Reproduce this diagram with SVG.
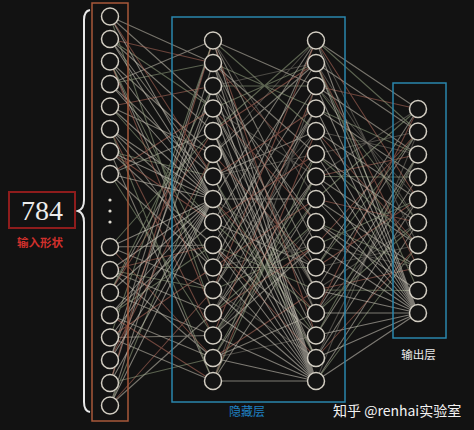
<svg xmlns="http://www.w3.org/2000/svg" width="474" height="430" viewBox="0 0 474 430">
<style>
.bg{fill:#121212}
.n{fill:#141414;stroke:#d2cdc2;stroke-width:1.5}
.e{fill:none;stroke-width:1.1}
.g{stroke:#c8c2b4;stroke-opacity:0.55}
.r{stroke:#b8705e;stroke-opacity:0.55}
.v{stroke:#98a683;stroke-opacity:0.55}
.d{stroke:#a39d90;stroke-opacity:0.4}
.f{stroke:#d6d0c2;stroke-opacity:0.55}
.cjk{font-family:"Noto Sans CJK SC","Noto Sans",sans-serif}
</style>
<rect class="bg" x="0" y="0" width="474" height="430"/>
<g id="connectors">
<path class="e g" d="M110 16.5L213 108.5M110 39L213 131M110 61.5L213 154M110 84L213 176.5M110 129L213 222M110 151.5L213 245M110 174L213 267.5M110 247L213 290M110 270L213 313M110 292.5L213 335.5M110 315L213 358M110 337.5L213 381M110 360L213 40.5M110 383L213 63M110 405.5L213 86"/>
<path class="e g" d="M110 16.5L213 63M110 39L213 176.5M110 61.5L213 290M110 84L213 40.5M110 106.5L213 154M110 129L213 267.5M110 151.5L213 381M110 174L213 131M110 247L213 245M110 270L213 358M110 292.5L213 108.5M110 315L213 222M110 337.5L213 335.5M110 360L213 86M110 405.5L213 313"/>
<path class="e r" d="M110 16.5L213 176.5M110 39L213 63M110 61.5L213 313M110 106.5L213 86M110 129L213 335.5M110 151.5L213 222M110 174L213 108.5M110 247L213 358M110 270L213 245M110 292.5L213 131M110 315L213 381M110 337.5L213 267.5M110 360L213 154M110 383L213 40.5M110 405.5L213 290"/>
<path class="e v" d="M110 16.5L213 313M110 39L213 108.5M110 61.5L213 267.5M110 84L213 63M110 106.5L213 222M110 129L213 381M110 151.5L213 176.5M110 174L213 335.5M110 247L213 131M110 270L213 290M110 292.5L213 86M110 315L213 245M110 337.5L213 40.5M110 383L213 358M110 405.5L213 154"/>
<path class="e f" d="M110 16.5L213 199M110 39L213 199M110 61.5L213 199M110 84L213 199M110 106.5L213 199M110 129L213 199M110 151.5L213 199M110 174L213 199M110 247L213 199M110 270L213 199M110 292.5L213 199M110 315L213 199M110 337.5L213 199M110 360L213 199M110 383L213 199M110 405.5L213 199"/>
<path class="e g" d="M213 40.5L316 245M213 63L316 267.5M213 86L316 290M213 108.5L316 313M213 131L316 335.5M213 154L316 358M213 199L316 40.5M213 222L316 63M213 245L316 86M213 267.5L316 108.5M213 290L316 131M213 313L316 154M213 335.5L316 176.5M213 358L316 199M213 381L316 222"/>
<path class="e g" d="M213 40.5L316 86M213 63L316 154M213 86L316 222M213 108.5L316 290M213 131L316 358M213 154L316 63M213 176.5L316 131M213 199L316 199M213 222L316 267.5M213 245L316 335.5M213 267.5L316 40.5M213 290L316 108.5M213 313L316 176.5M213 335.5L316 245M213 358L316 313"/>
<path class="e r" d="M213 40.5L316 335.5M213 63L316 176.5M213 108.5L316 222M213 131L316 63M213 154L316 267.5M213 176.5L316 108.5M213 199L316 313M213 222L316 154M213 245L316 358M213 267.5L316 199M213 290L316 40.5M213 313L316 245M213 335.5L316 86M213 358L316 290M213 381L316 131"/>
<path class="e v" d="M213 40.5L316 131M213 63L316 108.5M213 86L316 86M213 108.5L316 63M213 131L316 40.5M213 176.5L316 358M213 199L316 335.5M213 222L316 313M213 245L316 290M213 267.5L316 267.5M213 290L316 245M213 313L316 222M213 335.5L316 199M213 358L316 176.5M213 381L316 154"/>
<path class="e d" d="M213 40.5L316 199M213 63L316 313M213 86L316 63M213 108.5L316 176.5M213 131L316 290M213 154L316 40.5M213 176.5L316 154M213 199L316 267.5M213 245L316 131M213 267.5L316 245M213 290L316 358M213 313L316 108.5M213 335.5L316 222M213 358L316 335.5M213 381L316 86"/>
<path class="e f" d="M213 40.5L316 381M213 63L316 381M213 86L316 381M213 108.5L316 381M213 131L316 381M213 154L316 381M213 176.5L316 381M213 199L316 381M213 222L316 381M213 245L316 381M213 267.5L316 381M213 290L316 381M213 313L316 381M213 335.5L316 381M213 358L316 381M213 381L316 381"/>
<path class="e g" d="M316 40.5L418 109M316 63L418 131.5M316 86L418 154.5M316 108.5L418 177M316 131L418 199.5M316 154L418 222.5M316 176.5L418 245M316 199L418 267.5M316 222L418 290.5M316 267.5L418 109M316 290L418 131.5M316 313L418 154.5M316 335.5L418 177M316 358L418 199.5M316 381L418 222.5"/>
<path class="e r" d="M316 40.5L418 199.5M316 63L418 267.5M316 86L418 109M316 131L418 245M316 176.5L418 154.5M316 199L418 222.5M316 245L418 131.5M316 267.5L418 199.5M316 290L418 267.5M316 313L418 109M316 358L418 245"/>
<path class="e v" d="M316 40.5L418 131.5M316 63L418 290.5M316 86L418 222.5M316 108.5L418 154.5M316 154L418 245M316 176.5L418 177M316 199L418 109M316 222L418 267.5M316 245L418 199.5M316 267.5L418 131.5M316 290L418 290.5M316 313L418 222.5M316 335.5L418 154.5M316 381L418 245"/>
<path class="e d" d="M316 40.5L418 245M316 63L418 222.5M316 86L418 199.5M316 131L418 154.5M316 154L418 131.5M316 176.5L418 109M316 245L418 267.5M316 267.5L418 245M316 290L418 222.5M316 313L418 199.5M316 358L418 154.5M316 381L418 131.5"/>
<path class="e f" d="M316 40.5L418 313M316 63L418 313M316 86L418 313M316 108.5L418 313M316 131L418 313M316 154L418 313M316 176.5L418 313M316 199L418 313M316 222L418 313M316 245L418 313M316 267.5L418 313M316 290L418 313M316 313L418 313M316 335.5L418 313M316 358L418 313M316 381L418 313"/>
</g>
<g id="input-layer">
<rect x="92" y="3" width="36" height="418" fill="none" stroke="#a8583a" stroke-width="1.5"/>
<circle class="n" cx="110" cy="16.5" r="8.5"/>
<circle class="n" cx="110" cy="39" r="8.5"/>
<circle class="n" cx="110" cy="61.5" r="8.5"/>
<circle class="n" cx="110" cy="84" r="8.5"/>
<circle class="n" cx="110" cy="106.5" r="8.5"/>
<circle class="n" cx="110" cy="129" r="8.5"/>
<circle class="n" cx="110" cy="151.5" r="8.5"/>
<circle class="n" cx="110" cy="174" r="8.5"/>
<circle cx="110" cy="200" r="1.6" fill="#e0dcd2"/>
<circle cx="110" cy="211" r="1.6" fill="#e0dcd2"/>
<circle cx="110" cy="222" r="1.6" fill="#e0dcd2"/>
<circle class="n" cx="110" cy="247" r="8.5"/>
<circle class="n" cx="110" cy="270" r="8.5"/>
<circle class="n" cx="110" cy="292.5" r="8.5"/>
<circle class="n" cx="110" cy="315" r="8.5"/>
<circle class="n" cx="110" cy="337.5" r="8.5"/>
<circle class="n" cx="110" cy="360" r="8.5"/>
<circle class="n" cx="110" cy="383" r="8.5"/>
<circle class="n" cx="110" cy="405.5" r="8.5"/>
</g>
<g id="input-brace">
<path d="M90 10Q84 11 84 20L84 200Q84 209 78 211Q84 213 84 222L84 402Q84 411 90 412" fill="none" stroke="#e8e8e8" stroke-width="2"/>
</g>
<g id="input-shape">
<rect x="9" y="192" width="66" height="36" fill="none" stroke="#8e1c1c" stroke-width="2"/>
<text x="42" y="220" text-anchor="middle" font-family="'Liberation Serif',serif" font-size="28" fill="#ececec">784</text>
<text x="40" y="246.5" text-anchor="middle" class="cjk" font-size="11.5" font-weight="bold" fill="#d0302c">输入形状</text>
</g>
<g id="hidden-layer">
<rect x="172" y="17" width="173" height="385" fill="none" stroke="#2a86ad" stroke-width="1.5"/>
<circle class="n" cx="213" cy="40.5" r="8.5"/>
<circle class="n" cx="213" cy="63" r="8.5"/>
<circle class="n" cx="213" cy="86" r="8.5"/>
<circle class="n" cx="213" cy="108.5" r="8.5"/>
<circle class="n" cx="213" cy="131" r="8.5"/>
<circle class="n" cx="213" cy="154" r="8.5"/>
<circle class="n" cx="213" cy="176.5" r="8.5"/>
<circle class="n" cx="213" cy="199" r="8.5"/>
<circle class="n" cx="213" cy="222" r="8.5"/>
<circle class="n" cx="213" cy="245" r="8.5"/>
<circle class="n" cx="213" cy="267.5" r="8.5"/>
<circle class="n" cx="213" cy="290" r="8.5"/>
<circle class="n" cx="213" cy="313" r="8.5"/>
<circle class="n" cx="213" cy="335.5" r="8.5"/>
<circle class="n" cx="213" cy="358" r="8.5"/>
<circle class="n" cx="213" cy="381" r="8.5"/>
<circle class="n" cx="316" cy="40.5" r="8.5"/>
<circle class="n" cx="316" cy="63" r="8.5"/>
<circle class="n" cx="316" cy="86" r="8.5"/>
<circle class="n" cx="316" cy="108.5" r="8.5"/>
<circle class="n" cx="316" cy="131" r="8.5"/>
<circle class="n" cx="316" cy="154" r="8.5"/>
<circle class="n" cx="316" cy="176.5" r="8.5"/>
<circle class="n" cx="316" cy="199" r="8.5"/>
<circle class="n" cx="316" cy="222" r="8.5"/>
<circle class="n" cx="316" cy="245" r="8.5"/>
<circle class="n" cx="316" cy="267.5" r="8.5"/>
<circle class="n" cx="316" cy="290" r="8.5"/>
<circle class="n" cx="316" cy="313" r="8.5"/>
<circle class="n" cx="316" cy="335.5" r="8.5"/>
<circle class="n" cx="316" cy="358" r="8.5"/>
<circle class="n" cx="316" cy="381" r="8.5"/>
<text x="247" y="416" text-anchor="middle" class="cjk" font-size="12" fill="#1f80c2">隐藏层</text>
</g>
<g id="output-layer">
<rect x="393" y="83" width="53" height="255" fill="none" stroke="#2a86ad" stroke-width="1.5"/>
<circle class="n" cx="418" cy="109" r="8.5"/>
<circle class="n" cx="418" cy="131.5" r="8.5"/>
<circle class="n" cx="418" cy="154.5" r="8.5"/>
<circle class="n" cx="418" cy="177" r="8.5"/>
<circle class="n" cx="418" cy="199.5" r="8.5"/>
<circle class="n" cx="418" cy="222.5" r="8.5"/>
<circle class="n" cx="418" cy="245" r="8.5"/>
<circle class="n" cx="418" cy="267.5" r="8.5"/>
<circle class="n" cx="418" cy="290.5" r="8.5"/>
<circle class="n" cx="418" cy="313" r="8.5"/>
<text x="418.5" y="359" text-anchor="middle" class="cjk" font-size="11.5" fill="#ececec">输出层</text>
</g>
<text x="333" y="416" class="cjk" font-size="14" fill="#f2f2f2">知乎 @renhai实验室</text>
</svg>
